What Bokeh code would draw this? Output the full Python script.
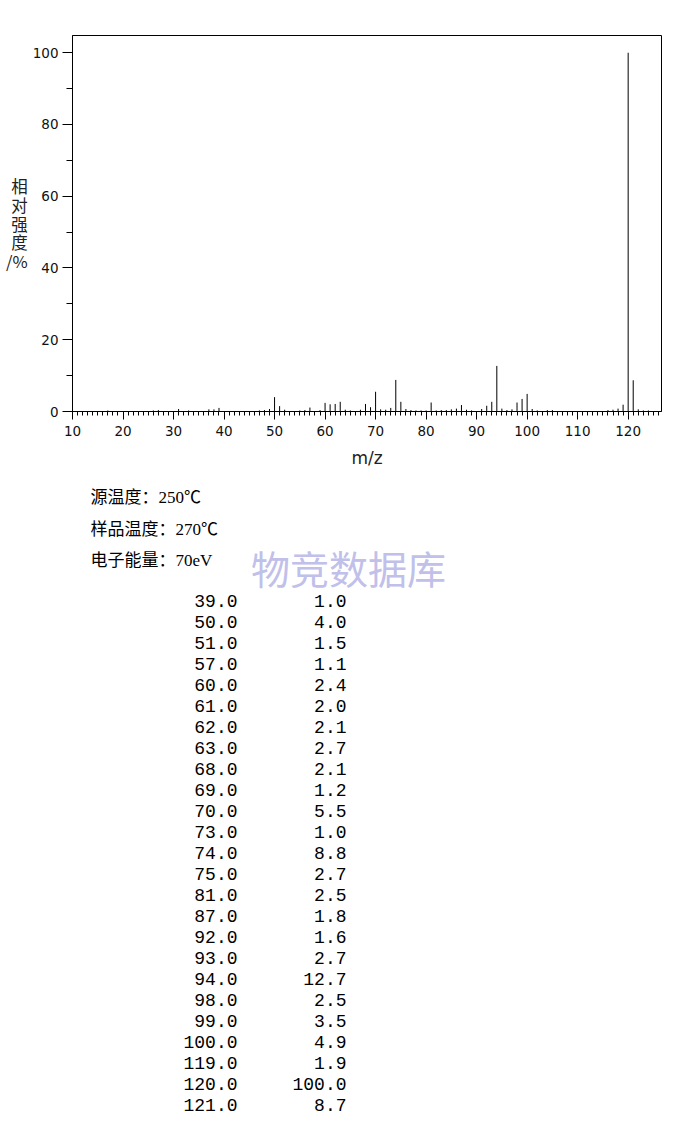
from bokeh.plotting import figure
from bokeh.layouts import column
from bokeh.models import Range1d, SingleIntervalTicker
from bokeh.core.properties import value
from bokeh.embed import file_html
from bokeh.resources import INLINE

# ---- data ----
# listed peaks (m/z, relative intensity %)
table_mz = [39.0, 50.0, 51.0, 57.0, 60.0, 61.0, 62.0, 63.0, 68.0, 69.0, 70.0, 73.0,
            74.0, 75.0, 81.0, 87.0, 92.0, 93.0, 94.0, 98.0, 99.0, 100.0, 119.0, 120.0, 121.0]
table_int = [1.0, 4.0, 1.5, 1.1, 2.4, 2.0, 2.1, 2.7, 2.1, 1.2, 5.5, 1.0,
             8.8, 2.7, 2.5, 1.8, 1.6, 2.7, 12.7, 2.5, 3.5, 4.9, 1.9, 100.0, 8.7]
# small unlisted peaks
minor_mz = [17, 26, 27, 31, 33, 37, 38, 47, 48, 49, 52, 55, 56, 59, 64, 65, 67, 71, 72,
            76, 77, 78, 79, 80, 82, 83, 84, 85, 86, 88, 89, 91, 95, 96, 97, 101, 102,
            104, 105, 116, 117, 118, 122, 123, 124]
minor_int = [0.3, 0.3, 0.4, 0.7, 0.3, 0.6, 0.6, 0.3, 0.4, 0.7, 0.5, 0.3, 0.4, 0.4, 0.5,
             0.3, 0.5, 0.6, 0.5, 0.7, 0.4, 0.3, 0.3, 0.3, 0.3, 0.4, 0.4, 0.6, 0.8, 0.5,
             0.3, 0.7, 0.8, 0.4, 0.6, 0.7, 0.3, 0.4, 0.4, 0.4, 0.5, 0.8, 0.6, 0.3, 0.3]
info_lines = ["源温度：250℃", "样品温度：270℃", "电子能量：70eV"]
y_label = "相\n对\n强\n度\n/%"
x_label = "m/z"
watermark = "物竞数据库"

W = 696
H1 = 480
H2 = 650
BL, BR = 72, 35

# ---------------- spectrum ----------------
p = figure(width=W, height=H1, x_range=Range1d(10, 126.6), y_range=Range1d(0, 104.8),
           output_backend="svg", toolbar_location=None,
           min_border_left=BL, min_border_right=BR, min_border_top=35, min_border_bottom=H1 - 411)
p.background_fill_color = "white"
p.border_fill_color = "white"
p.outline_line_color = "black"
p.outline_line_width = 1
p.outline_line_alpha = 1
p.xgrid.grid_line_color = None
p.ygrid.grid_line_color = None

all_mz = table_mz + minor_mz
all_int = table_int + minor_int
p.segment(x0=all_mz, y0=[0] * len(all_mz), x1=all_mz, y1=all_int,
          line_color="black", line_width=1)

xa = p.xaxis[0]
xa.ticker = SingleIntervalTicker(interval=10, num_minor_ticks=10)
xa.major_tick_in = 0
xa.major_tick_out = 8
xa.minor_tick_in = 0
xa.minor_tick_out = 4
xa.axis_line_color = "black"
xa.major_tick_line_color = "black"
xa.minor_tick_line_color = "black"
xa.major_label_text_font = "DejaVu Sans"
xa.major_label_text_font_size = "13.5px"
xa.major_label_text_color = "#111111"
xa.major_label_standoff = 6
xa.axis_label = x_label
xa.axis_label_text_font = "DejaVu Sans"
xa.axis_label_text_font_style = "normal"
xa.axis_label_text_font_size = "17px"
xa.axis_label_text_color = "#222222"
xa.axis_label_standoff = 9

ya = p.yaxis[0]
ya.ticker = SingleIntervalTicker(interval=20, num_minor_ticks=2)
ya.major_tick_in = 0
ya.major_tick_out = 10
ya.minor_tick_in = 0
ya.minor_tick_out = 6
ya.axis_line_color = "black"
ya.major_tick_line_color = "black"
ya.minor_tick_line_color = "black"
ya.major_label_text_font = "DejaVu Sans"
ya.major_label_text_font_size = "13.5px"
ya.major_label_text_color = "#111111"
ya.major_label_standoff = 4
ya.axis_label = y_label
ya.axis_label_orientation = "horizontal"
ya.axis_label_text_font = "Noto Sans CJK SC"
ya.axis_label_text_font_style = "normal"
ya.axis_label_text_font_size = "16.5px"
ya.axis_label_text_line_height = 0.78
ya.axis_label_text_color = "#222222"
ya.axis_label_standoff = 2

# ---------------- text block ----------------
# frame is aligned with the spectrum frame, so data x equals page x
t = figure(width=W, height=H2, x_range=Range1d(BL, W - BR), y_range=Range1d(H2, 0),
           output_backend="svg", toolbar_location=None,
           min_border_left=BL, min_border_right=BR, min_border_top=0, min_border_bottom=0,
           x_axis_type=None, y_axis_type=None)
t.outline_line_color = None
t.background_fill_color = "white"
t.border_fill_color = "white"
t.xgrid.grid_line_color = None
t.ygrid.grid_line_color = None

t.text(x=[90] * len(info_lines), y=[17 + 31.5 * i for i in range(len(info_lines))], text=info_lines,
       text_align="left", text_baseline="middle",
       text_font=value("Liberation Serif, Noto Sans CJK SC"), text_font_size="17px", text_color="black")

t.text(x=[348], y=[86], text=[watermark], text_align="center", text_baseline="middle",
       text_font=value("Noto Sans CJK SC"), text_font_size="39px", text_color="#c0c0ea")

row_y = [120 + 21 * i for i in range(len(table_mz))]
t.text(x=[237] * len(table_mz), y=row_y, text=["%.1f" % v for v in table_mz],
       text_align="right", text_baseline="middle",
       text_font=value("Liberation Mono"), text_font_size="18px", text_color="black")
t.text(x=[346] * len(table_int), y=row_y, text=["%.1f" % v for v in table_int],
       text_align="right", text_baseline="middle",
       text_font=value("Liberation Mono"), text_font_size="18px", text_color="black")

layout = column(p, t, spacing=0)
open("out.html", "w").write(file_html(layout, INLINE))
